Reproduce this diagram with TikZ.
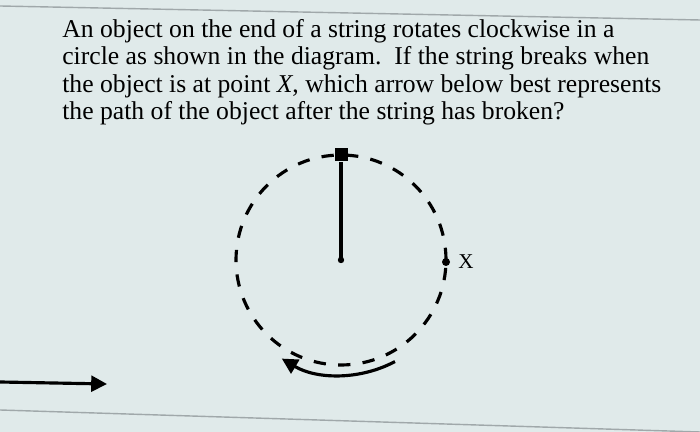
\documentclass[tikz,border=0pt]{standalone}
\usepackage{fontspec}
\setmainfont{Liberation Serif}
\usepackage{xcolor}
\usepackage{tikz}
\usetikzlibrary{arrows.meta}

\definecolor{screen}{RGB}{224,234,234}
\definecolor{edge}{RGB}{160,168,170}

\begin{document}
\begin{tikzpicture}[x=0.02cm,y=0.02cm,
  thick line/.style={line width=1.8pt},
  orbit/.style={line width=1.8pt,dash pattern=on 7pt off 7pt}]
\fill[screen] (0,0) rectangle (700,432);
\useasboundingbox (0,0) rectangle (700,432);
% screen edges
\draw[edge,line width=0.8pt] (0,426)--(700,412);
\draw[edge,line width=0.8pt] (0,22)--(700,0);
% question
\node[anchor=north west,align=left,inner sep=0pt,font=\fontsize{14.6}{15.6}\selectfont] (question) at (62,413)
 {An object on the end of a string rotates clockwise in a\\
  circle as shown in the diagram.\ \ If the string breaks when\\
  the object is at point \textit{X}, which arrow below best represents\\
  the path of the object after the string has broken?};
% circle and string
\coordinate (centre) at (341,172);
\draw[orbit] (centre) circle (105);
\node[fill,minimum size=0.26cm,inner sep=0pt] (object) at (341,277) {};
\fill (centre) circle (3.2);
\draw[thick line] (centre)--(object);
\node[fill,circle,minimum size=0.16cm,inner sep=0pt] (pointX) at (446,170) {};
\node[right=1pt,font=\fontsize{12}{14}\selectfont] (labelX) at (pointX.east) {X};
% direction of motion
\draw[thick line,-{Triangle[length=9pt,width=9pt]}] ([shift={(-62:115)}]centre) arc (-62:-121:115);
% answer arrow
\coordinate (start) at (0,50);
\coordinate (tip) at (107,48);
\draw[thick line,-{Triangle[length=9pt,width=9pt]}] (start)--(tip);
\end{tikzpicture}
\end{document}
